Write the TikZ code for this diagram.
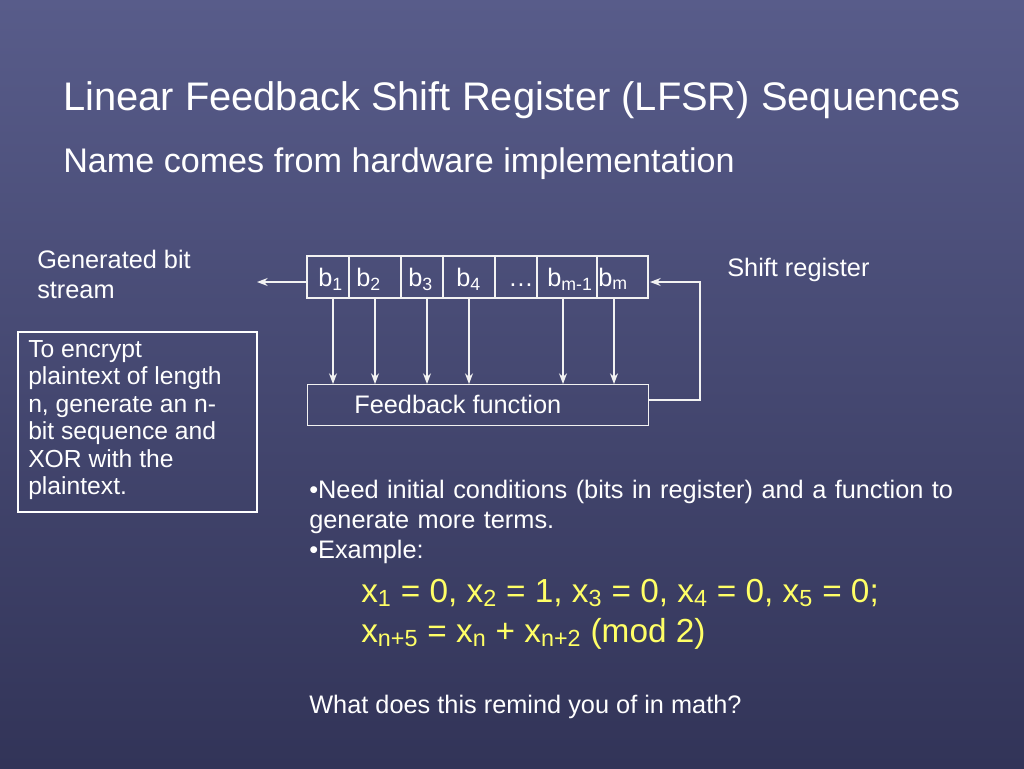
\documentclass[tikz,border=0pt]{standalone}
\usepackage{fontspec}
\setmainfont{Liberation Sans}
\usetikzlibrary{arrows.meta}
\definecolor{bgA}{RGB}{88,92,138}
\definecolor{bgB}{RGB}{50,52,88}
\definecolor{ylw}{RGB}{255,255,102}
\begin{document}
\begin{tikzpicture}[x=0.75pt,y=-0.75pt,
  txt/.style={text=white,inner sep=0,anchor=base west},
  sm/.style={font=\fontsize{19}{22.5}\selectfont},
  ln/.style={draw=white!90!gray,line width=0.9pt},
  arr/.style={ln,-{Stealth[length=8pt,width=6pt]}}]
\useasboundingbox (0,0) rectangle (1024,768);
\shade[shading=axis,shading angle=135,top color=bgA,bottom color=bgB] (0,0) rectangle (1024,768);
\node[txt,font=\fontsize{29.9}{36}\selectfont] (title) at (63,110) {Linear Feedback Shift Register (LFSR) Sequences};
\node[txt,font=\fontsize{25.6}{30}\selectfont] (sub) at (63,172) {Name comes from hardware implementation};
\foreach \a/\b/\n in {307/349/c1,349/401/c2,401/443/c3,443/495/c4,495/537/c5,537/597/c6,597/648/c7}
  \draw[ln] (\a,256) rectangle (\b,298) coordinate (\n);
\node[txt,sm] (l1) at (318,286) {b\textsubscript{1}};
\node[txt,sm] (l2) at (356,286) {b\textsubscript{2}};
\node[txt,sm] (l3) at (408,286) {b\textsubscript{3}};
\node[txt,sm] (l4) at (456,286) {b\textsubscript{4}};
\node[txt,sm] (l5) at (508,286) {…};
\node[txt,sm] (l6) at (547,286) {b\textsubscript{m-1}};
\node[txt,sm] (l7) at (598,286) {b\textsubscript{m}};
\node[ln,minimum width=255.75pt,minimum height=30.75pt,inner sep=0,anchor=north west] (fb) at (307,384) {};
\node[txt,sm] (fbt) at (354,413) {Feedback function};
\foreach \x in {333,375,427,469,563,614}
  \draw[arr] (\x,298) -- (\x,384);
\coordinate (o) at (257,282);
\coordinate (i) at (650,282);
\draw[arr] (307,282) -- (o);
\draw[arr] (648,400) -- (700,400) -- (700,282) -- (i);
\node[txt,sm,align=left,anchor=north west] (gen) at (37,250) {Generated bit\\stream};
\node[txt,sm] (sr) at (727,276) {Shift register};
\draw[draw=white,line width=1.2pt] (18,332) rectangle (257,512);
\node[txt,font=\fontsize{18.5}{20.6}\selectfont,align=left,anchor=north west] (enc) at (28,340) {To encrypt\\plaintext of length\\n, generate an n-\\bit sequence and\\XOR with the\\plaintext.};
\node[txt,sm,align=left,anchor=north west,text width=510pt] (b1) at (309,480) {\raggedright •Need initial conditions (bits in register) and a function to generate more terms.\\•Example:};
\node[txt,text=ylw,font=\fontsize{25}{30}\selectfont] (e1) at (361,602) {x\textsubscript{1} = 0, x\textsubscript{2} = 1, x\textsubscript{3} = 0, x\textsubscript{4} = 0, x\textsubscript{5} = 0;};
\node[txt,text=ylw,font=\fontsize{25}{30}\selectfont] (e2) at (361,642) {x\textsubscript{n+5} = x\textsubscript{n} + x\textsubscript{n+2} (mod 2)};
\node[txt,sm] (q) at (309,713) {What does this remind you of in math?};
\end{tikzpicture}
\end{document}
